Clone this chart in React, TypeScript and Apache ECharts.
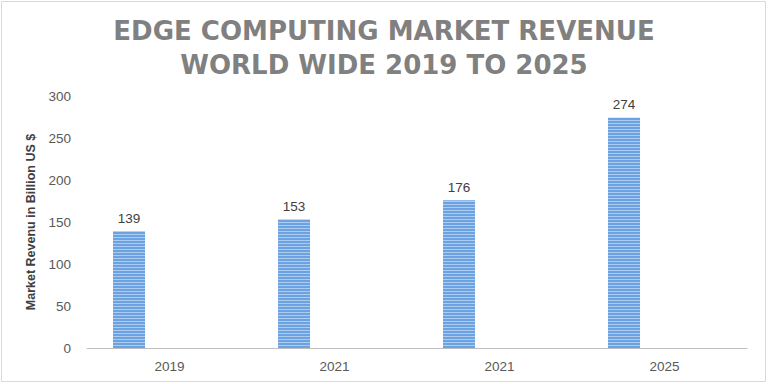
import React, { useEffect, useRef } from "react";
import * as echarts from "echarts";

const categories = ["2019", "2021", "2021", "2025"];
const revenue = [139, 153, 176, 274];
const emptySeries = [null, null, null, null];
const yTicks = { min: 0, max: 300, interval: 50 };
const titleText = "EDGE COMPUTING MARKET REVENUE\nWORLD WIDE 2019 TO 2025";
const yAxisName = "Market Revenu in Billion US $";

export default function App() {
  const ref = useRef<HTMLDivElement>(null);
  useEffect(() => {
    document.body.style.margin = "0";
    const chart = echarts.init(ref.current!, null, { renderer: "svg" });
    chart.setOption({
      animation: false,
      backgroundColor: "#ffffff",
      title: {
        text: titleText,
        left: "center",
        top: 9,
        textStyle: {
          fontFamily: "DejaVu Sans",
          fontSize: 26,
          fontWeight: "bold",
          color: "#808080",
          lineHeight: 34,
        },
      },
      graphic: [
        {
          type: "rect",
          shape: { x: 1.5, y: 1.5, width: 764, height: 380 },
          style: { fill: "none", stroke: "#d9d9d9", lineWidth: 1 },
          silent: true,
        },
      ],
      grid: { left: 87, right: 21, top: 96, bottom: 36 },
      xAxis: {
        type: "category",
        data: categories,
        axisLine: { lineStyle: { color: "#bfbfbf", width: 1 } },
        axisTick: { show: false },
        axisLabel: {
          color: "#595959",
          fontSize: 13.5,
          fontFamily: "Liberation Sans",
          margin: 11,
        },
      },
      yAxis: {
        type: "value",
        min: yTicks.min,
        max: yTicks.max,
        interval: yTicks.interval,
        name: yAxisName,
        nameLocation: "middle",
        nameGap: 50,
        nameTextStyle: {
          color: "#404040",
          fontSize: 12.5,
          fontWeight: "bold",
          fontFamily: "Liberation Sans Narrow, Liberation Sans",
        },
        axisLine: { show: false },
        axisTick: { show: false },
        splitLine: { show: false },
        axisLabel: {
          color: "#595959",
          fontSize: 13.5,
          fontFamily: "Liberation Sans",
          margin: 16,
        },
      },
      series: [
        {
          type: "bar",
          data: revenue,
          barWidth: 32,
          barGap: "153%",
          itemStyle: {
            color: "#6ba2e2",
            decal: {
              symbol: "rect",
              symbolSize: 1,
              dashArrayX: [[1, 0]],
              dashArrayY: [1, 2],
              rotation: 0,
              color: "rgba(255,255,255,0.45)",
            },
          },
          label: {
            show: true,
            position: "top",
            distance: 6,
            color: "#404040",
            fontSize: 13.5,
            fontFamily: "Liberation Sans",
          },
        },
        {
          type: "bar",
          data: emptySeries,
          barWidth: 32,
        },
      ],
    });
    return () => chart.dispose();
  }, []);
  return (
    <div
      ref={ref}
      style={{ width: 768, height: 384, position: "absolute", left: 0, top: 0 }}
    />
  );
}
